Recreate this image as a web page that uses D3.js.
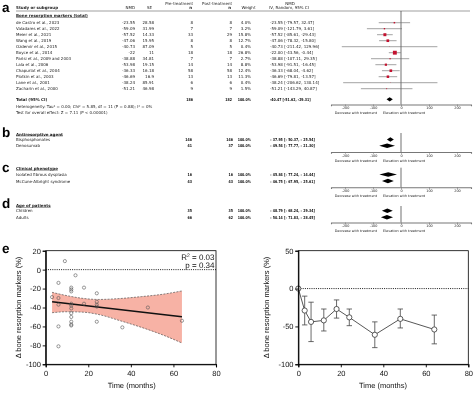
<!DOCTYPE html>
<html><head><meta charset="utf-8">
<script src="https://cdn.jsdelivr.net/npm/d3@7"></script>
<style>body{margin:0;background:#fff}svg{display:block;will-change:transform}text{text-rendering:geometricPrecision}</style>
</head><body>
<script>
// ---------- Panel a data ----------
const studies = ["de Castro et al., 2023","Valadares et al., 2022","Meier et al., 2021","Wang et al., 2019","Ozdemir et al., 2015","Boyce et al., 2014","Parisi et al., 2009 and 2003","Lala et al., 2006","Chapurlat et al., 2004","Plotkin et al., 2003","Lane et al., 2001","Zacharin et al., 2000"];
const nmd = [-23.55,-59.09,-57.52,-47.06,-40.73,-22,-38.88,-53.98,-36.33,-46.69,-38.24,-51.21];
const se = [28.58,31.99,14.33,15.95,87.09,11,34.81,19.15,16.18,16.9,85.91,46.98];
const preN = [8,7,33,8,5,18,7,14,58,13,6,9];
const postN = [8,7,29,8,5,18,7,14,58,13,6,9];
const weights = [4.0,3.2,15.8,12.7,0.4,26.8,2.7,8.8,12.4,11.3,0.4,1.5];
const ciLow = [-79.57,-121.79,-85.61,-78.32,-211.42,-43.56,-107.11,-91.51,-68.04,-79.81,-206.62,-143.29];
const ciHigh = [32.47,3.61,-29.43,-15.80,129.96,-0.44,29.35,-16.45,-4.62,-13.57,130.14,40.87];
const totalPre = 186, totalPost = 182, totalEst = -40.47, totalLow = -51.62, totalHigh = -29.31;

// ---------- Panels b, c, d data ----------
const subTitles = ["Antiresorptive agent","Clinical phenotype","Age of patients"];
const subLetters = ["b","c","d"];
const subNames = [["Bisphosphonates","Denosumab"],["Isolated fibrous dysplasia","McCune-Albright syndrome"],["Children","Adults"]];
const subPre = [[146,41],[16,43],[35,66]];
const subPost = [[146,37],[16,43],[35,62]];
const subEst = [[-37.95,-49.54],[-45.84,-46.75],[-48.79,-50.14]];
const subLow = [[-50.37,-77.77],[-77.24,-67.95],[-68.24,-71.83]];
const subHigh = [[-25.54,-21.30],[-14.44,-25.61],[-29.34,-28.45]];
const forestTicks = [-200,-100,0,100,200];

// ---------- Panel e data ----------
const scatterTime = [3,6,6,6,6,6,9,12,12,12,12,12,12,12,12,12,12,12,14,18,18,24,24,24,24,24,36,48,64];
const scatterChange = [-29,-14,-30,-37,-60,-81,9,-19,-21,-23,-36,-38,-41,-46,-50,-55,-58,-59,-6,-19,-36,-25,-34,-37,-39,-55,-61,-40,-54];
const regTime = [3,64];
const regChange = [-33.9,-49.7];
const bandTime = [3,10,18,25,35,45,55,64];
const bandUpper = [-24,-27.5,-30.5,-31.5,-30.5,-28.5,-26,-22.5];
const bandLower = [-45.5,-44.5,-45,-47.5,-54,-61,-69,-77.5];
const eTicksX = [0,20,40,60,80];
const eTicksY = [20,0,-20,-40,-60,-80,-100];

// ---------- Panel f data ----------
const fTime = [0,3,6,12,18,24,36,48,64];
const fMean = [0,-29,-44,-42,-27,-38,-61,-40,-54];
const fLow = [0,-48,-70,-56,-39,-49,-78,-52,-73];
const fHigh = [0,-10,-18,-27,-15,-27,-44,-27,-35];
const fTicksY = [50,0,-50,-100];

// ================= drawing =================
const W = 474, H = 393;
const svg = d3.select("body").append("svg").attr("width", W).attr("height", H);
const FF = "'DejaVu Sans', Verdana, sans-serif";
const AF = "'Liberation Sans', Arial, sans-serif";
const TC = "#222";

function txt(x, y, s, o = {}) {
  const t = svg.append("text")
    .attr("dominant-baseline", "central")
    .attr("font-family", o.ff || FF).attr("font-size", o.fs || 4)
    .attr("font-weight", o.bold ? "bold" : "normal")
    .attr("text-anchor", o.anchor || "start")
    .attr("fill", o.fill || TC)
    .text(s);
  if (o.sx) t.attr("x", 0).attr("y", 0).attr("transform", `translate(${x},${y}) scale(${o.sx},1)`);
  else t.attr("x", x).attr("y", y);
  if (o.ul) {
    const w = t.node().getComputedTextLength();
    svg.append("line").attr("x1", x).attr("x2", x + w).attr("y1", y + 2).attr("y2", y + 2)
      .attr("stroke", o.fill || TC).attr("stroke-width", 0.4);
  }
  return t;
}
function fmt(v) { return (v < 0 ? "-" : "") + Math.abs(v).toFixed(2); }
function fmtD(v) { return (v < 0 ? "\u2013 " : "") + Math.abs(v).toFixed(2); }
const BN = {bold: true, sx: 0.8, fill: "#111"};

function letter(x, y, s) {
  svg.append("text").attr("x", x).attr("y", y).attr("font-family", AF)
    .attr("font-size", 13.5).attr("font-weight", "bold").attr("fill", "#000").text(s);
}
letter(2, 11.5, "a");

const cName = 16, cNMD = 135, cSE = 154, cPre = 193, cPost = 232, cW = 251, cCI = 270;
const xF = d3.scaleLinear().domain([-250, 250]).range([331, 471]);

// header
txt(cName, 7.3, "Study or subgroup", {bold: true});
txt(cNMD, 7.3, "NMD", {anchor: "end"});
txt(cSE - 2, 7.3, "SE", {anchor: "end"});
txt(cPre, 3, "Pre-treatment", {anchor: "end"});
txt(cPre - 1, 7.3, "n", {anchor: "end", bold: true});
txt(cPost, 3, "Post-treatment", {anchor: "end"});
txt(cPost - 1, 7.3, "n", {anchor: "end", bold: true});
txt(248.5, 7.3, "Weight", {anchor: "middle"});
txt(290, 3, "NMD", {anchor: "middle"});
txt(289, 7.3, "IV, Random, 95% CI", {anchor: "middle"});
svg.append("line").attr("x1", 16).attr("x2", 470).attr("y1", 11).attr("y2", 11)
  .attr("stroke", "#777").attr("stroke-width", 0.7);

txt(cName, 15.5, "Bone resorption markers (total)", {bold: true, ul: true});

function forestAxis(yAxis, yTop) {
  svg.append("line").attr("x1", xF(0)).attr("x2", xF(0)).attr("y1", yTop).attr("y2", yAxis)
    .attr("stroke", "#333").attr("stroke-width", 0.7);
  const g = svg.append("g").attr("transform", `translate(0,${yAxis})`)
    .call(d3.axisBottom(xF).tickValues(forestTicks).tickSize(1.8).tickPadding(0.6).tickFormat(d => String(d)));
  g.select(".domain").attr("stroke", "#777").attr("stroke-width", 1.1);
  g.selectAll(".tick line").attr("stroke", "#777").attr("stroke-width", 0.6);
  g.selectAll(".tick text").attr("font-family", FF).attr("font-size", 3.4).attr("fill", TC);
  txt(377, yAxis + 8.8, "Decrease with treatment", {anchor: "end", fs: 3.4});
  txt(383, yAxis + 8.8, "Elevation with treatment", {anchor: "start", fs: 3.4});
}
function diamond(est, lo, hi, y, h) {
  svg.append("path")
    .attr("d", `M${xF(lo)},${y}L${xF(est)},${y - h}L${xF(hi)},${y}L${xF(est)},${y + h}Z`)
    .attr("fill", "#000");
}

forestAxis(104.5, 11);

studies.forEach((s, i) => {
  const y = 22.7 + 6 * i;
  txt(cName, y, s);
  txt(cNMD, y, String(nmd[i]), {anchor: "end"});
  txt(cSE, y, String(se[i]), {anchor: "end"});
  txt(cPre, y, String(preN[i]), {anchor: "end"});
  txt(cPost, y, String(postN[i]), {anchor: "end"});
  txt(cW, y, weights[i].toFixed(1) + "%", {anchor: "end"});
  txt(cCI, y, `${fmt(nmd[i])} [${fmt(ciLow[i])}, ${fmt(ciHigh[i])}]`);
  svg.append("line").attr("x1", xF(ciLow[i])).attr("x2", xF(ciHigh[i])).attr("y1", y).attr("y2", y)
    .attr("stroke", "#666").attr("stroke-width", 0.6);
  const side = Math.sqrt(weights[i]) * 0.75;
  svg.append("rect").attr("x", xF(nmd[i]) - side / 2).attr("y", y - side / 2)
    .attr("width", side).attr("height", side).attr("fill", "#c3122f");
});

const yTot = 99.3;
txt(cName, yTot, "Total (95% CI)", {bold: true});
txt(cPre, yTot, String(totalPre), {...BN, anchor: "end"});
txt(cPost, yTot, String(totalPost), {...BN, anchor: "end"});
txt(cW, yTot, "100.0%", {...BN, anchor: "end"});
txt(cCI, yTot, `${fmt(totalEst)} [${fmt(totalLow)}, ${fmt(totalHigh)}]`, BN);
diamond(totalEst, totalLow, totalHigh, yTot, 2.1);
txt(cName, 106.7, "Heterogeneity: Tau\u00b2 = 0.00; Chi\u00b2 = 5.85, df = 11 (P = 0.88); I\u00b2 = 0%");
txt(cName, 112.7, "Test for overall effect: Z = 7.11 (P < 0.00001)");

// subgroups b,c,d
const subHeadY = [134, 168.3, 205.5];
const subRowY = [[139.5, 145.8], [174.5, 181], [210.8, 217.2]];
const subAxisY = [152, 187.3, 222.5];
const subTopY = [133, 167.7, 206];
const subLetterY = [136.5, 171.7, 207.7];
subTitles.forEach((t, k) => {
  letter(2, subLetterY[k], subLetters[k]);
  txt(cName, subHeadY[k], t, {bold: true, ul: true});
  forestAxis(subAxisY[k], subTopY[k]);
  subNames[k].forEach((n, j) => {
    const y = subRowY[k][j];
    txt(cName, y, n);
    txt(cPre - 1, y, String(subPre[k][j]), {...BN, anchor: "end"});
    txt(cPost + 1, y, String(subPost[k][j]), {...BN, anchor: "end"});
    txt(cW, y, "100.0%", {...BN, anchor: "end"});
    txt(cCI, y, `${fmtD(subEst[k][j])} [${fmtD(subLow[k][j])}, ${fmtD(subHigh[k][j])}]`, BN);
    diamond(subEst[k][j], subLow[k][j], subHigh[k][j], y, 2.3);
  });
});

// ================= Panel e =================
letter(2, 252.5, "e");
const xE = d3.scaleLinear().domain([0, 80]).range([45.7, 216]);
const yE = d3.scaleLinear().domain([-100, 20]).range([364.3, 250.7]);

const bandData = bandTime.map((t, i) => ({t, u: bandUpper[i], l: bandLower[i]}));
svg.append("path").datum(bandData)
  .attr("d", d3.area().x(d => xE(d.t)).y0(d => yE(d.l)).y1(d => yE(d.u)).curve(d3.curveMonotoneX))
  .attr("fill", "#f7b2a5");
["u", "l"].forEach(k => {
  svg.append("path").datum(bandData)
    .attr("d", d3.line().x(d => xE(d.t)).y(d => yE(d[k])).curve(d3.curveMonotoneX))
    .attr("fill", "none").attr("stroke", "#555").attr("stroke-width", 0.7).attr("stroke-dasharray", "2,1.3");
});
svg.append("line").attr("x1", xE(0)).attr("x2", xE(80)).attr("y1", yE(0)).attr("y2", yE(0))
  .attr("stroke", "#000").attr("stroke-width", 0.9).attr("stroke-dasharray", "1,1.2");
svg.append("path").datum(regTime.map((t, i) => [t, regChange[i]]))
  .attr("d", d3.line().x(d => xE(d[0])).y(d => yE(d[1])))
  .attr("stroke", "#111").attr("stroke-width", 1.6).attr("fill", "none");
svg.append("g").selectAll("circle").data(scatterTime.map((t, i) => [t, scatterChange[i]])).join("circle")
  .attr("cx", d => xE(d[0])).attr("cy", d => yE(d[1])).attr("r", 1.6)
  .attr("fill", "none").attr("stroke", "#555").attr("stroke-width", 0.6);

function frameAxes(xs, ys, xt, yt) {
  const [x0, x1] = xs.range(), [y0, y1] = ys.range();
  svg.append("rect").attr("x", x0).attr("y", y1).attr("width", x1 - x0).attr("height", y0 - y1)
    .attr("fill", "none").attr("stroke", "#000").attr("stroke-width", 0.8);
  const gx = svg.append("g").attr("transform", `translate(0,${y0})`)
    .call(d3.axisBottom(xs).tickValues(xt).tickSize(3).tickPadding(3.2).tickFormat(d => String(d)));
  const gy = svg.append("g").attr("transform", `translate(${x0},0)`)
    .call(d3.axisLeft(ys).tickValues(yt).tickSize(3).tickPadding(1.8).tickFormat(d => String(d)));
  [gx, gy].forEach(g => {
    g.select(".domain").attr("stroke", "#000").attr("stroke-width", 1.1);
    g.selectAll(".tick line").attr("stroke", "#000").attr("stroke-width", 0.9);
    g.selectAll(".tick text").attr("font-family", AF).attr("font-size", 7.5).attr("fill", "#111");
  });
}
frameAxes(xE, yE, eTicksX, eTicksY);
txt(131.7, 385.5, "Time (months)", {ff: AF, fs: 7.5, anchor: "middle", fill: "#111"});
svg.append("text").attr("transform", "translate(18.5,307.5) rotate(-90)")
  .attr("text-anchor", "middle").attr("dominant-baseline", "central")
  .attr("font-family", AF).attr("font-size", 7.5).attr("fill", "#111")
  .text("\u0394 bone resorption markers (%)");
svg.append("text").attr("x", 214.5).attr("y", 259.5).attr("text-anchor", "end")
  .attr("font-family", AF).attr("font-size", 8).attr("fill", "#111")
  .html("R<tspan baseline-shift='super' font-size='5'>2</tspan> = 0.03");
svg.append("text").attr("x", 214.5).attr("y", 267.5).attr("text-anchor", "end")
  .attr("font-family", AF).attr("font-size", 8).attr("fill", "#111").text("p = 0.34");

// ================= Panel f =================
const xT = d3.scaleLinear().domain([0, 80]).range([298.3, 468.3]);
const yT = d3.scaleLinear().domain([-100, 50]).range([364.3, 250.7]);
svg.append("line").attr("x1", xT(0)).attr("x2", xT(80)).attr("y1", yT(0)).attr("y2", yT(0))
  .attr("stroke", "#000").attr("stroke-width", 0.9).attr("stroke-dasharray", "1,1.2");
const fData = fTime.map((t, i) => ({t, m: fMean[i], lo: fLow[i], hi: fHigh[i]}));
const eb = svg.append("g").attr("stroke", "#444").attr("stroke-width", 0.8);
fData.filter(d => d.hi !== d.lo).forEach(d => {
  eb.append("line").attr("x1", xT(d.t)).attr("x2", xT(d.t)).attr("y1", yT(d.lo)).attr("y2", yT(d.hi));
  eb.append("line").attr("x1", xT(d.t) - 2.7).attr("x2", xT(d.t) + 2.7).attr("y1", yT(d.lo)).attr("y2", yT(d.lo));
  eb.append("line").attr("x1", xT(d.t) - 2.7).attr("x2", xT(d.t) + 2.7).attr("y1", yT(d.hi)).attr("y2", yT(d.hi));
});
svg.append("path").datum(fData)
  .attr("d", d3.line().x(d => xT(d.t)).y(d => yT(d.m)))
  .attr("fill", "none").attr("stroke", "#444").attr("stroke-width", 0.9);
svg.append("g").selectAll("circle").data(fData).join("circle")
  .attr("cx", d => xT(d.t)).attr("cy", d => yT(d.m)).attr("r", 2.6)
  .attr("fill", "#fff").attr("stroke", "#333").attr("stroke-width", 0.8);
frameAxes(xT, yT, eTicksX, fTicksY);
txt(383, 385.5, "Time (months)", {ff: AF, fs: 7.5, anchor: "middle", fill: "#111"});
svg.append("text").attr("transform", "translate(266,307.5) rotate(-90)")
  .attr("text-anchor", "middle").attr("dominant-baseline", "central")
  .attr("font-family", AF).attr("font-size", 7.5).attr("fill", "#111")
  .text("\u0394 bone resorption markers (%)");
</script>
</body></html>
